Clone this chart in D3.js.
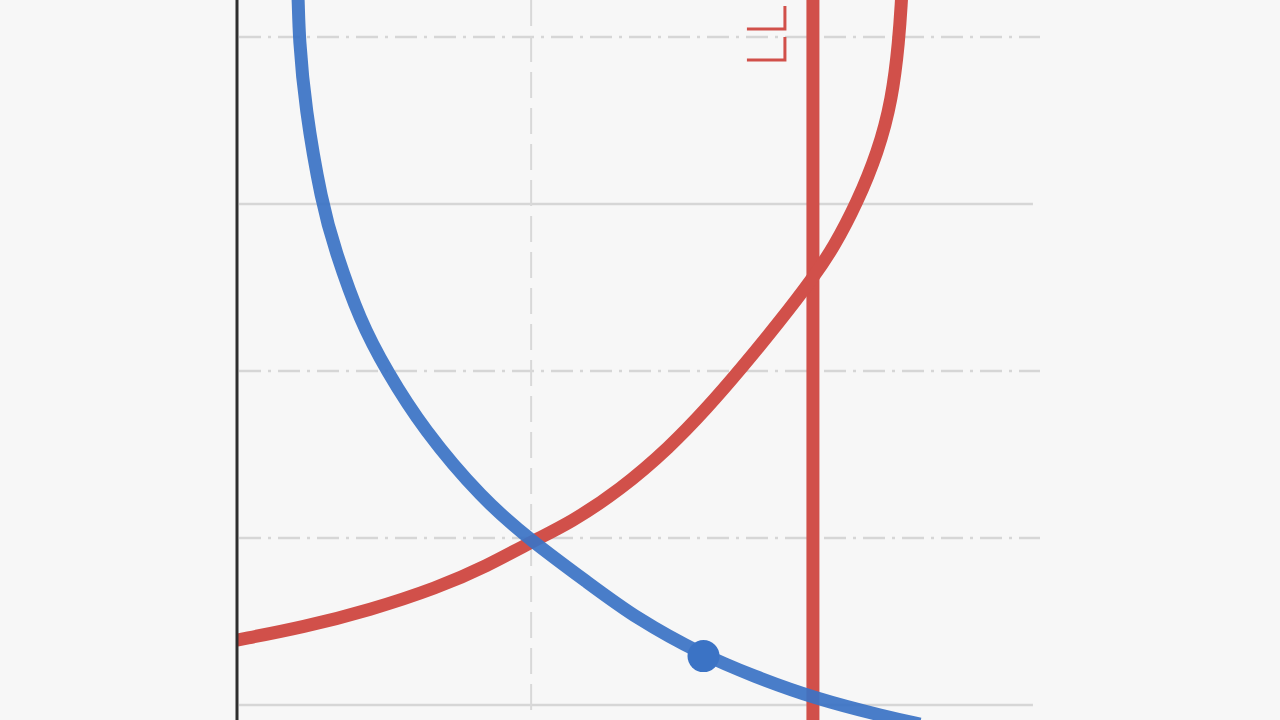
<!DOCTYPE html>
<html>
<head>
<meta charset="utf-8">
<script src="https://cdn.jsdelivr.net/npm/d3@7"></script>
<style>
  html, body { margin: 0; padding: 0; background: #f7f7f7; }
  svg { display: block; }
</style>
</head>
<body>
<div id="chart"></div>
<script>
var w = 1280,
	h = 720;

// gridline values (y) and which ones are solid
var gridValues = [0, 1, 2, 3, 4];
var gridSolid = [true, false, false, true, false];

// reference lines (x)
var equilibriumX = 1.0;
var limitX = 1.958;

// blue curve (falling)
var blueX = [0.2057, 0.2084, 0.2108, 0.2312, 0.2880, 0.3332, 0.4182, 0.5089, 0.6323, 0.8329, 1.0029, 1.1899, 1.3599, 1.5843, 1.7543, 1.9582, 2.2098, 2.3220];
var blueY = [4.281, 4.222, 4.000, 3.581, 3.006, 2.725, 2.299, 2.000, 1.653, 1.234, 0.980, 0.737, 0.515, 0.299, 0.174, 0.042, -0.072, -0.114];

// red curve (rising)
var redX = [0, 0.2278, 0.4522, 0.6800, 0.8500, 1.0029, 1.1321, 1.3021, 1.4721, 1.5979, 1.7101, 1.8461, 1.9582, 2.0296, 2.1078, 2.1792, 2.2268, 2.2506, 2.2591, 2.2608];
var redY = [0.389, 0.467, 0.569, 0.701, 0.832, 0.980, 1.090, 1.287, 1.545, 1.778, 2.006, 2.299, 2.557, 2.743, 3.006, 3.311, 3.623, 3.982, 4.222, 4.281];

// marked point on the blue curve
var dotX = [1.586];
var dotY = [0.293];

var blue = '#3b73c5';
var red = '#d1504a';

var x = d3.scaleLinear().domain([0, 2.73]).range([237, 1040]);
var y = d3.scaleLinear().domain([0, 4]).range([705, 37]);

var svg = d3.select('#chart')
	.append('svg')
	.attr('width', w)
	.attr('height', h);

svg.append('rect')
	.attr('width', w)
	.attr('height', h)
	.attr('fill', '#f7f7f7');

svg.append('clipPath')
	.attr('id', 'plot')
	.append('rect')
	.attr('x', x(0))
	.attr('y', 0)
	.attr('width', w - x(0))
	.attr('height', h);

//Horizontal gridlines
svg.append('g')
	.selectAll('line')
	.data(gridValues)
	.enter()
	.append('line')
	.attr('x1', x(0) + 2)
	.attr('x2', function(d, i) { return gridSolid[i] ? x(2.706) : x(2.73); })
	.attr('y1', function(d) { return y(d); })
	.attr('y2', function(d) { return y(d); })
	.attr('stroke', '#d6d6d6')
	.attr('stroke-width', 2.5)
	.attr('stroke-dasharray', function(d, i) { return gridSolid[i] ? null : '22,7,3,7'; });

//Vertical dashed line at equilibrium
svg.append('line')
	.attr('x1', x(equilibriumX))
	.attr('x2', x(equilibriumX))
	.attr('y1', 0)
	.attr('y2', h)
	.attr('stroke', '#d8d8d8')
	.attr('stroke-width', 2)
	.attr('stroke-dasharray', '26,10');

var plot = svg.append('g').attr('clip-path', 'url(#plot)');

// B-spline smooths out the small reading errors in the points
var line = d3.line()
	.x(function(d) { return x(d[0]); })
	.y(function(d) { return y(d[1]); })
	.curve(d3.curveBasis);

//Red vertical line
plot.append('line')
	.attr('x1', x(limitX))
	.attr('x2', x(limitX))
	.attr('y1', y(-0.2))
	.attr('y2', y(4.4))
	.attr('stroke', red)
	.attr('stroke-width', 13);

//Red curve
plot.append('path')
	.datum(d3.zip(redX, redY))
	.attr('d', line)
	.attr('fill', 'none')
	.attr('stroke', red)
	.attr('stroke-width', 13);

//Blue curve
plot.append('path')
	.datum(d3.zip(blueX, blueY))
	.attr('d', line)
	.attr('fill', 'none')
	.attr('stroke', blue)
	.attr('stroke-width', 13)
	.attr('stroke-opacity', 0.93);

//Marked point
plot.selectAll('circle')
	.data(d3.zip(dotX, dotY))
	.enter()
	.append('circle')
	.attr('cx', function(d) { return x(d[0]); })
	.attr('cy', function(d) { return y(d[1]); })
	.attr('r', 16)
	.attr('fill', blue);

//Small red bracket marks left of the vertical line
var bx = x(limitX) - 28;
var marks = svg.append('g')
	.attr('fill', 'none')
	.attr('stroke', red)
	.attr('stroke-width', 3);
marks.append('path')
	.attr('d', 'M' + bx + ',6 V29 H' + (bx - 38));
marks.append('path')
	.attr('d', 'M' + bx + ',37 V60 H' + (bx - 38));

//Left axis line
svg.append('line')
	.attr('x1', x(0))
	.attr('x2', x(0))
	.attr('y1', 0)
	.attr('y2', h)
	.attr('stroke', '#2e2e2e')
	.attr('stroke-width', 3);
</script>
</body>
</html>
